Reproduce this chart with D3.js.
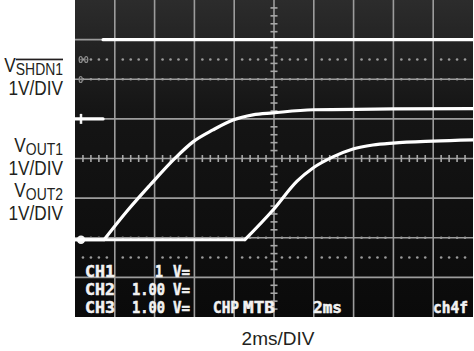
<!DOCTYPE html>
<html lang="en">
<head>
<meta charset="UTF-8">
<title>VSHDN1 / VOUT1 / VOUT2 start-up</title>
<script src="https://d3js.org/d3.v7.min.js"></script>
<style>
    body { margin: 0; background: #fff; }
    .lbl { font-family: "Liberation Sans", Arial, sans-serif; fill: #231f20; }
    .scr { font-family: "DejaVu Sans Mono", monospace; font-weight: bold; fill: #f2f2f2;
           stroke: #f2f2f2; stroke-width: 0.5; }
</style>
</head>
<body>
<svg id="chart" width="474" height="351"></svg>
<script>
// time in ms (2ms/DIV), volts at 1V/DIV; null splits a trace (sharp corner / invisible edge)
const shdnT = [0, 1.41, 1.41, 1.41, 20];
const shdnV = [0, 0, null, 2.0, 2.0];

const vout1T = [0, 1.46, 1.46, 1.46, 2.66, 3.77, 5.03, 5.93, 6.93, 7.94, 8.94, 9.95, 11.96, 15.98, 20];
const vout1V = [0, 0, null, 0, 0.75, 1.38, 2.06, 2.47, 2.77, 3.02, 3.15, 3.20, 3.28, 3.30, 3.31];

const vout2T = [0, 8.54, 8.54, 8.54, 9.95, 11.16, 11.96, 12.96, 13.97, 14.97, 15.98, 17.99, 20];
const vout2V = [0, 0, null, 0, 0.75, 1.48, 1.81, 2.09, 2.29, 2.39, 2.44, 2.49, 2.52];

// channel offsets in divisions from centre
const offsets = { ch1: 1, ch2: -2.05, ch3: -2.05 };

const readout = [
    { row: 0, items: [["CH1", 85, 30], ["1", 155, 8], ["V=", 173, 17]] },
    { row: 1, items: [["CH2", 85, 30], ["1.00", 132, 33], ["V=", 173, 17]] },
    { row: 2, items: [["CH3", 85, 30], ["1.00", 132, 33], ["V=", 173, 17],
                      ["CHP", 213, 26], ["MTB", 243, 32], ["2ms", 313, 29], ["ch4f", 433, 35]] }
];

const sideLabels = [
    { main: "V", sub: "SHDN1", y: 72, over: true },
    { main: "V", sub: "OUT1", y: 152, over: false },
    { main: "V", sub: "OUT2", y: 197, over: false }
];

const svg = d3.select("#chart");
const scrL = 75, scrR = 473, scrT = 0, scrB = 317;

const t = d3.scaleLinear().domain([0, 20]).range([scrL, scrR]);
const xDiv = d3.scaleLinear().domain([-5, 5]).range([scrL, scrR]);
const yDiv = d3.scaleLinear().domain([4, -4]).range([scrT, scrB]);

// screen background
const defs = svg.append("defs");
const grad = defs.append("linearGradient").attr("id", "bg").attr("x1", 0).attr("y1", 0).attr("x2", 0).attr("y2", 1);
grad.append("stop").attr("offset", "0%").attr("stop-color", "#2c2c2c");
grad.append("stop").attr("offset", "35%").attr("stop-color", "#151515");
grad.append("stop").attr("offset", "100%").attr("stop-color", "#0a0a0a");
const glow = defs.append("filter").attr("id", "glow").attr("x", "-5%").attr("y", "-5%").attr("width", "110%").attr("height", "110%");
glow.append("feGaussianBlur").attr("stdDeviation", 0.6);

svg.append("rect")
    .attr("x", scrL).attr("y", scrT)
    .attr("width", scrR - scrL).attr("height", scrB - scrT)
    .attr("fill", "url(#bg)");

const g = svg.append("g").attr("filter", "url(#glow)");

// graticule
d3.range(-4, 5).forEach(d => {
    g.append("line")
        .attr("x1", xDiv(d)).attr("x2", xDiv(d))
        .attr("y1", scrT).attr("y2", scrB)
        .attr("stroke", "#9c9c9c").attr("stroke-width", 1.6);
});
d3.range(-3, 4).forEach(d => {
    g.append("line")
        .attr("x1", scrL).attr("x2", scrR)
        .attr("y1", yDiv(d)).attr("y2", yDiv(d))
        .attr("stroke", "#9c9c9c").attr("stroke-width", 1.6);
});

// minor ticks on centre lines
const minorX = d3.range(-5, 5.01, 0.2).filter(v => Math.abs(v - Math.round(v)) > 0.01);
const minorY = d3.range(-4, 4.01, 0.2).filter(v => Math.abs(v - Math.round(v)) > 0.01);
minorX.forEach(v => {
    g.append("line")
        .attr("x1", xDiv(v)).attr("x2", xDiv(v))
        .attr("y1", yDiv(0) - 3.5).attr("y2", yDiv(0) + 3.5)
        .attr("stroke", "#a8a8a8").attr("stroke-width", 1.6);
});
minorY.forEach(v => {
    g.append("line")
        .attr("x1", xDiv(0) - 3.5).attr("x2", xDiv(0) + 3.5)
        .attr("y1", yDiv(v)).attr("y2", yDiv(v))
        .attr("stroke", "#a8a8a8").attr("stroke-width", 1.6);
});

// dotted rows
[2.5, 2, -2, -2.5].forEach(row => {
    g.selectAll(null)
        .data(minorX.filter(v => v > -4.95))
        .enter().append("circle")
        .attr("cx", v => xDiv(v)).attr("cy", yDiv(row))
        .attr("r", 1.3).attr("fill", "#9a9a9a");
});

// channel markers
g.append("text").attr("x", 78).attr("y", yDiv(2.5) + 3.5)
    .attr("font-family", "DejaVu Sans Mono").attr("font-size", 9).attr("font-weight", "bold")
    .attr("fill", "#8c8c8c").text("00");
g.append("text").attr("x", 78).attr("y", yDiv(2) + 3.5)
    .attr("font-family", "DejaVu Sans Mono").attr("font-size", 9).attr("font-weight", "bold")
    .attr("fill", "#8c8c8c").text("0");
g.append("line")
    .attr("x1", 81).attr("x2", 81)
    .attr("y1", yDiv(offsets.ch1) - 5).attr("y2", yDiv(offsets.ch1) + 5)
    .attr("stroke", "#f4f4f4").attr("stroke-width", 2.5);
g.append("circle")
    .attr("cx", 81).attr("cy", yDiv(offsets.ch2))
    .attr("r", 4.2).attr("fill", "#f4f4f4");

// traces
function trace(ts, vs, off, curve) {
    const pts = ts.map((d, i) => [d, vs[i]]);
    const line = d3.line()
        .defined(d => d[1] !== null)
        .x(d => t(d[0]))
        .y(d => yDiv(off + d[1]))
        .curve(curve);
    g.append("path")
        .attr("d", line(pts))
        .attr("fill", "none")
        .attr("stroke", "#ffffff")
        .attr("stroke-width", 3.2)
        .attr("stroke-linejoin", "round")
        .attr("stroke-linecap", "round");
}
trace(shdnT, shdnV, offsets.ch1, d3.curveLinear);
trace(vout1T, vout1V, offsets.ch2, d3.curveMonotoneX);
trace(vout2T, vout2V, offsets.ch3, d3.curveMonotoneX);

// on-screen readout
const baselines = [277, 295, 313];
readout.forEach(r => {
    r.items.forEach(([txt, x, w]) => {
        svg.append("text")
            .attr("class", "scr")
            .attr("x", x).attr("y", baselines[r.row])
            .attr("font-size", 15)
            .attr("textLength", w)
            .attr("lengthAdjust", "spacingAndGlyphs")
            .text(txt);
    });
});

// side labels, condensed like the original face
sideLabels.forEach(d => {
    const lg = svg.append("g").attr("transform", `translate(63,${d.y}) scale(0.82,1)`);
    const tx = lg.append("text").attr("class", "lbl").attr("text-anchor", "end");
    tx.append("tspan").attr("font-size", 21).text(d.main);
    tx.append("tspan").attr("font-size", 17).attr("dy", 3)
        .attr("text-decoration", d.over ? "overline" : null)
        .text(d.sub);
    tx.append("tspan").attr("x", 0).attr("dy", 20)
        .attr("font-size", 21)
        .text("1V/DIV");
});

svg.append("text").attr("class", "lbl")
    .attr("x", 278).attr("y", 345)
    .attr("text-anchor", "middle")
    .attr("font-size", 19)
    .text("2ms/DIV");
</script>
</body>
</html>
